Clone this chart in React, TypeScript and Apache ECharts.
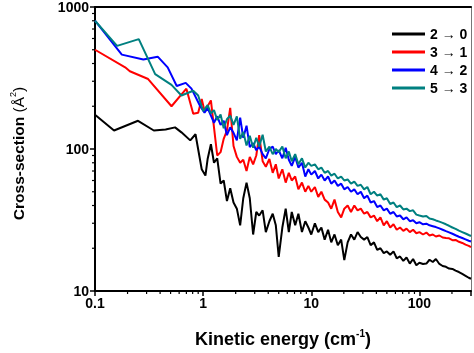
import React, { useEffect, useRef } from "react";
import * as echarts from "echarts";

// Shared dense energy grid (cm^-1)
const energies = [
  1.1, 1.18, 1.26, 1.35, 1.45, 1.55, 1.66, 1.78, 1.91, 2.05, 2.2, 2.35, 2.52, 2.7, 2.9, 3.1,
  3.3, 3.55, 3.8, 4.1, 4.4, 4.7, 5.0, 5.4, 5.8, 6.2, 6.6, 7.1, 7.6, 8.2, 8.8, 9.4,
  10, 10.8, 11.6, 12.4, 13.3, 14.3, 15.3, 16.4, 17.6, 18.9, 20.2, 21.7, 23.3, 25, 26.8, 28.7,
  30.8, 33, 35.4, 38, 40.7, 43.6, 46.8, 50, 53.7, 57.6, 61.7, 66.2, 71, 76, 81.5, 87.4, 93.7,
  100, 108, 116, 124, 133, 142, 153, 164, 176, 188, 202, 216, 232, 249, 267, 286, 300,
];

// Low-energy points of each transition
const lowBlackE = [0.1, 0.15, 0.25, 0.35, 0.45, 0.55, 0.63, 0.76, 0.85, 0.97, 1.05];
const lowBlack = [174, 135, 158, 135, 137, 142, 131, 115, 127, 72, 65];
const lowRedE = [0.1, 0.19, 0.21, 0.31, 0.51, 0.7, 0.81, 0.9, 0.97, 1.03];
const lowRed = [500, 376, 353, 311, 200, 266, 177, 180, 225, 185];
const lowBlueE = [0.1, 0.177, 0.28, 0.38, 0.47, 0.57, 0.69, 0.78, 0.94, 1.03];
const lowBlue = [802, 462, 427, 447, 376, 278, 292, 266, 200, 180];
const lowTealE = [0.1, 0.16, 0.254, 0.36, 0.51, 0.63, 0.81, 0.9, 1.0];
const lowTeal = [800, 532, 594, 337, 283, 238, 257, 238, 185];

// Cross sections (Å^2) on the dense grid
const black = [
  85, 108, 80, 86, 57, 60, 43, 53, 42, 38, 29, 45, 58, 45, 25, 36,
  34, 37, 26, 31, 35, 29, 17.4, 28, 38, 26, 36, 29, 35, 26, 31, 28,
  25, 30, 26, 28, 23, 27, 22, 25, 21, 23, 16.5, 22, 25, 23, 26, 24,
  23, 24, 21, 22, 19.5, 20, 18.5, 19, 18, 19, 17, 17.5, 16.3, 17.2, 15.6, 16.8, 15.2,
  15.8, 15.5, 15.6, 16.6, 16.0, 16.8, 15.5, 15.0, 14.8, 14.4, 14.3, 13.9, 13.6, 13.2, 12.8, 12.4, 12.2,
];
const red = [
  200, 220, 142, 90, 95, 118, 135, 195, 105, 88, 80, 84, 70, 88, 78, 90,
  125, 82, 75, 85, 68, 78, 62, 72, 58, 68, 60, 64, 52, 58, 50, 55,
  50, 54, 46, 50, 44, 42, 38, 44, 36, 33, 38, 40, 36, 40, 37, 38,
  35, 36, 33, 34, 31, 33, 29, 31, 28, 29.5, 27, 28, 26.5, 27.5, 26, 27, 25.5,
  26, 25, 25.8, 24.6, 25, 24.2, 24.6, 23.8, 23.6, 23.5, 22.8, 22.9, 22.2, 21.8, 21.2, 20.8, 20.4,
];
const blue = [
  194, 172, 153, 170, 148, 158, 125, 142, 130, 115, 166, 120, 146, 103, 110, 98,
  104, 92, 86, 100, 104, 92, 98, 86, 102, 84, 76, 88, 74, 80, 64, 72,
  66, 70, 62, 66, 60, 64, 57, 60, 55, 57, 52, 54, 50, 52, 48, 50,
  45, 47, 42, 43, 39, 40, 37, 38, 35, 36, 33.5, 34, 32, 33, 31, 31.5, 30,
  30.5, 29.5, 29.8, 29, 28.6, 28.2, 27.6, 27.0, 26.4, 25.9, 25.3, 24.7, 24.1, 23.6, 23.1, 22.6, 22.3,
];
const teal = [
  204, 178, 188, 160, 175, 140, 162, 172, 148, 170, 118, 132, 106, 124, 102, 120,
  104, 126, 96, 104, 92, 100, 95, 104, 86, 96, 82, 92, 78, 86, 74, 80,
  76, 78, 72, 74, 68, 70, 65, 67, 62, 64, 60, 61, 57, 59, 55, 56,
  52, 54, 48, 50, 47, 48, 44, 45, 41, 42, 39, 40, 37.5, 38, 36.5, 37, 34.5,
  34, 33.5, 33.8, 32.4, 32, 31.4, 30.8, 30.2, 29.5, 28.8, 28, 27.4, 26.6, 26, 25.4, 24.8, 24.4,
];

const seriesNames = ["2 \u2192 0", "3 \u2192 1", "4 \u2192 2", "5 \u2192 3"];
const seriesColors = ["#000000", "#ff0000", "#0000ff", "#008080"];

const xDecades = [0.1, 1, 10, 100];
const yDecades = [10, 100];
const minorMultipliers = [2, 3, 4, 5, 6, 7, 8, 9];

const FONT = "'Liberation Sans', Arial, sans-serif";

const mk = (lowE: number[], lowV: number[], vals: number[]) => [
  ...lowE.map((e, i) => [e, lowV[i]]),
  ...energies.map((e, i) => [e, vals[i]]),
];

const decadeLabel = (v: number) => {
  const l = Math.log10(v);
  return Math.abs(l - Math.round(l)) < 1e-6 ? String(Number(v.toPrecision(6))) : "";
};

export default function App() {
  const ref = useRef<HTMLDivElement>(null);
  useEffect(() => {
    if (!ref.current) return;
    const chart = echarts.init(ref.current, undefined, { renderer: "svg" });
    const datasets = [
      mk(lowBlackE, lowBlack, black),
      mk(lowRedE, lowRed, red),
      mk(lowBlueE, lowBlue, blue),
      mk(lowTealE, lowTeal, teal),
    ];
    const labelStyle = { color: "#000", fontFamily: FONT, fontWeight: "bold" as const, fontSize: 14 };
    chart.setOption({
      animation: false,
      grid: { left: 80, right: 1, top: 6, bottom: 55, containLabel: false },
      legend: {
        orient: "vertical",
        left: 387,
        top: 21,
        icon: "rect",
        itemWidth: 33,
        itemHeight: 3,
        itemGap: 2,
        textStyle: { ...labelStyle, fontSize: 14, lineHeight: 16 },
        data: seriesNames,
      },
      xAxis: [
        {
          type: "log",
          logBase: 10,
          min: 0.1,
          max: 300,
          axisLine: { show: true, lineStyle: { color: "#000", width: 2 } },
          axisTick: { show: true, inside: false, length: 5, lineStyle: { color: "#000", width: 1.5 } },
          axisLabel: { ...labelStyle, margin: 5, formatter: decadeLabel },
          splitLine: { show: false },
          name: "{b|Kinetic energy }{b|(cm}{s|-1}{b|)}",
          nameLocation: "middle",
          nameGap: 37,
          nameTextStyle: {
            rich: {
              b: { fontFamily: FONT, fontWeight: "bold", fontSize: 18, color: "#000", lineHeight: 22 },
              s: { fontFamily: FONT, fontWeight: "bold", fontSize: 10, color: "#000", lineHeight: 22, verticalAlign: "top" },
            },
          },
        },
        {
          type: "log",
          logBase: 10,
          min: 0.1,
          max: 300,
          position: "top",
          axisLine: { show: true, lineStyle: { color: "#000", width: 2 } },
          axisTick: { show: false },
          axisLabel: { show: false },
          splitLine: { show: false },
        },
      ],
      yAxis: [
        {
          type: "log",
          logBase: 10,
          min: 10,
          max: 1000,
          axisLine: { show: true, lineStyle: { color: "#000", width: 2 } },
          axisTick: { show: true, inside: false, length: 5, lineStyle: { color: "#000", width: 1.5 } },
          axisLabel: { ...labelStyle, margin: 6, formatter: decadeLabel },
          splitLine: { show: false },
          name: "{b|Cross-section }{n|(\u00c5}{s|2}{n|)}",
          nameLocation: "middle",
          nameGap: 67,
          nameTextStyle: {
            padding: [0, 9, 0, 0],
            rich: {
              b: { fontFamily: FONT, fontWeight: "bold", fontSize: 15.5, color: "#000", lineHeight: 20 },
              n: { fontFamily: FONT, fontWeight: "normal", fontSize: 15.5, color: "#000", lineHeight: 20 },
              s: { fontFamily: FONT, fontWeight: "normal", fontSize: 9, color: "#000", lineHeight: 20, verticalAlign: "top" },
            },
          },
        },
        {
          type: "log",
          logBase: 10,
          min: 10,
          max: 1000,
          position: "right",
          axisLine: { show: true, lineStyle: { color: "#777", width: 1 } },
          axisTick: { show: false },
          axisLabel: { show: false },
          splitLine: { show: false },
        },
      ],
      series: datasets.map((d, i) => ({
        name: seriesNames[i],
        type: "line",
        data: d,
        showSymbol: false,
        symbol: "none",
        clip: true,
        color: seriesColors[i],
        lineStyle: { color: seriesColors[i], width: 2 },
      })),
    });

    // minor ticks placed through the axes' own scales
    const x0 = chart.convertToPixel({ xAxisIndex: 0 }, 0.1) as number;
    const yBottom = chart.convertToPixel({ yAxisIndex: 0 }, 10) as number;
    const g: any[] = [];
    xDecades.forEach((d) =>
      minorMultipliers.forEach((k) => {
        const v = d * k;
        if (v >= 300) return;
        const px = chart.convertToPixel({ xAxisIndex: 0 }, v) as number;
        g.push({ type: "line", shape: { x1: px, y1: yBottom, x2: px, y2: yBottom + 3 }, style: { stroke: "#000", lineWidth: 1.2 }, silent: true });
      })
    );
    yDecades.forEach((d) =>
      minorMultipliers.forEach((k) => {
        const py = chart.convertToPixel({ yAxisIndex: 0 }, d * k) as number;
        g.push({ type: "line", shape: { x1: x0 - 3, y1: py, x2: x0, y2: py }, style: { stroke: "#000", lineWidth: 1.2 }, silent: true });
      })
    );
    chart.setOption({ graphic: g });
    return () => chart.dispose();
  }, []);
  return <div ref={ref} style={{ position: "fixed", left: 0, top: 0, width: 474, height: 353 }} />;
}
